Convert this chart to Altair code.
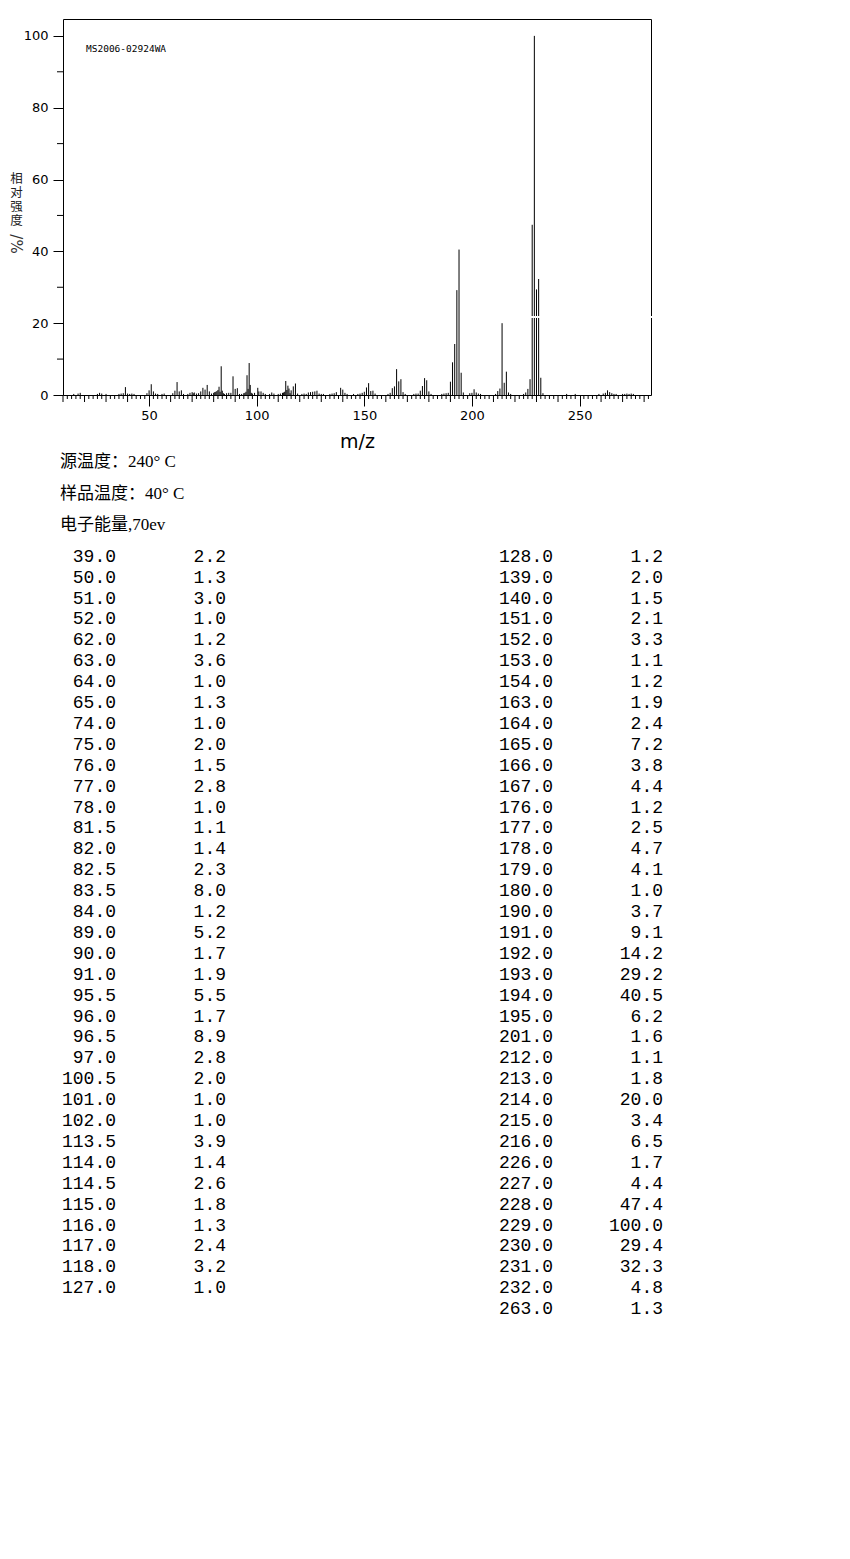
import altair as alt
import pandas as pd

# ---------------- data ----------------
left_mz = [39.0, 50.0, 51.0, 52.0, 62.0, 63.0, 64.0, 65.0, 74.0, 75.0, 76.0, 77.0, 78.0,
           81.5, 82.0, 82.5, 83.5, 84.0, 89.0, 90.0, 91.0, 95.5, 96.0, 96.5, 97.0,
           100.5, 101.0, 102.0, 113.5, 114.0, 114.5, 115.0, 116.0, 117.0, 118.0, 127.0]
left_int = [2.2, 1.3, 3.0, 1.0, 1.2, 3.6, 1.0, 1.3, 1.0, 2.0, 1.5, 2.8, 1.0,
            1.1, 1.4, 2.3, 8.0, 1.2, 5.2, 1.7, 1.9, 5.5, 1.7, 8.9, 2.8,
            2.0, 1.0, 1.0, 3.9, 1.4, 2.6, 1.8, 1.3, 2.4, 3.2, 1.0]
right_mz = [128.0, 139.0, 140.0, 151.0, 152.0, 153.0, 154.0, 163.0, 164.0, 165.0, 166.0,
            167.0, 176.0, 177.0, 178.0, 179.0, 180.0, 190.0, 191.0, 192.0, 193.0, 194.0,
            195.0, 201.0, 212.0, 213.0, 214.0, 215.0, 216.0, 226.0, 227.0, 228.0, 229.0,
            230.0, 231.0, 232.0, 263.0]
right_int = [1.2, 2.0, 1.5, 2.1, 3.3, 1.1, 1.2, 1.9, 2.4, 7.2, 3.8,
             4.4, 1.2, 2.5, 4.7, 4.1, 1.0, 3.7, 9.1, 14.2, 29.2, 40.5,
             6.2, 1.6, 1.1, 1.8, 20.0, 3.4, 6.5, 1.7, 4.4, 47.4, 100.0,
             29.4, 32.3, 4.8, 1.3]
# small peaks (< 1 %) visible in the spectrum but not listed in the table (estimated)
minor_mz = [15, 17, 18, 26, 27, 28, 30, 36, 37, 38, 40, 41, 42, 43, 49, 53, 54, 56, 57, 61,
            66, 68, 69, 70, 70.5, 71, 72, 73, 79, 80, 80.5, 81, 83, 84.5, 85, 86, 87, 88,
            92, 93, 94, 94.5, 95, 97.5, 98, 99, 103, 104, 106, 107, 108, 110, 111, 112,
            112.5, 113, 115.5, 119, 121, 122, 123, 124, 125, 126, 129, 130, 131, 134, 135,
            136, 137, 141, 142, 145, 147, 148, 149, 150, 155, 161, 162, 168, 169, 173, 174,
            175, 181, 186, 187, 188, 189, 196, 199, 200, 202, 203, 204, 211, 217, 218, 224,
            225, 233, 244, 248, 259, 261, 262, 264, 265, 266, 267, 270, 271, 272, 273, 274, 275]
minor_int = [0.3, 0.4, 0.6, 0.3, 0.6, 0.4, 0.3, 0.3, 0.4, 0.5, 0.4, 0.3, 0.4, 0.3, 0.5, 0.4, 0.3, 0.3, 0.4, 0.5,
             0.3, 0.3, 0.6, 0.8, 0.5, 0.7, 0.4, 0.5, 0.4, 0.6, 0.8, 0.9, 0.9, 0.5, 0.3, 0.5, 0.6, 0.6,
             0.3, 0.3, 0.5, 0.6, 0.9, 0.6, 0.4, 0.6, 0.6, 0.3, 0.3, 0.7, 0.4, 0.3, 0.4, 0.6,
             0.7, 0.9, 0.5, 0.4, 0.3, 0.4, 0.3, 0.7, 0.8, 0.9, 0.4, 0.3, 0.3, 0.3, 0.4,
             0.5, 0.8, 0.6, 0.3, 0.3, 0.3, 0.4, 0.6, 0.9, 0.4, 0.3, 0.6, 0.8, 0.3, 0.3, 0.4,
             0.4, 0.3, 0.3, 0.4, 0.5, 0.6, 0.7, 0.5, 0.6, 0.7, 0.4, 0.3, 0.3, 0.7, 0.3, 0.3,
             0.7, 0.5, 0.3, 0.3, 0.3, 0.4, 0.6, 0.8, 0.5, 0.3, 0.3, 0.3, 0.3, 0.4, 0.3, 0.4, 0.3]

header_lines = ["源温度：240° C", "样品温度：40° C", "电子能量,70ev"]
sample_id = "MS2006-02924WA"
y_title_chars = ["相", "对", "强", "度"]
y_title_tail = "/%"
x_title = "m/z"
x_major = [50, 100, 150, 200, 250]
y_major = [0, 20, 40, 60, 80, 100]
y_minor = [10, 30, 50, 70, 90]
x_mid = [v for v in range(10, 284, 10) if v % 50]
x_small = [v for v in range(10, 284, 2) if v % 10]

# ---------------- layout / style ----------------
W, H = 588, 376
X_DOM = [10, 283.2]
Y_DOM = [0, 104.7]
ROW0, ROWSTEP = 537.7, 20.9
TABLE_FONT = "Liberation Mono"
TITLE_X = -47

peaks = pd.DataFrame({"mz": left_mz + right_mz + minor_mz,
                      "intensity": left_int + right_int + minor_int})

xs = alt.Scale(domain=X_DOM, nice=False, zero=False)
ys = alt.Scale(domain=Y_DOM, nice=False)

x_axis = alt.Axis(values=x_major, tickSize=11, labelPadding=3, title=x_title,
                  titleFontSize=19, titlePadding=10, titleFont="DejaVu Sans")
y_axis = alt.Axis(values=y_major, tickSize=10, labelPadding=5,
                  title=y_title_chars, titleAngle=0, titleAlign="center",
                  titleBaseline="top", titleX=TITLE_X, titleY=153,
                  titleFont="Noto Sans CJK SC", titleFontSize=12.5,
                  titleLineHeight=14, titleColor="#222")

bars = alt.Chart(peaks).mark_rule(color="black", strokeWidth=1).encode(
    x=alt.X("mz:Q", scale=xs, axis=x_axis),
    y=alt.Y("intensity:Q", scale=ys, axis=y_axis),
    y2=alt.datum(0),
)

mid_ticks = alt.Chart(pd.DataFrame({"t": x_mid})).mark_rule(color="black").encode(
    x=alt.X("t:Q", scale=xs, axis=x_axis), y=alt.value(H), y2=alt.value(H + 7))
small_ticks = alt.Chart(pd.DataFrame({"t": x_small})).mark_rule(color="black").encode(
    x=alt.X("t:Q", scale=xs, axis=x_axis), y=alt.value(H), y2=alt.value(H + 4))
y_small_ticks = alt.Chart(pd.DataFrame({"t": y_minor})).mark_rule(color="black").encode(
    y=alt.Y("t:Q", scale=ys, axis=y_axis), x=alt.value(0), x2=alt.value(-6))

# thin white break seen across the top peaks and the right frame in the reference
gap = alt.Chart(pd.DataFrame({"t": [0]})).mark_rule(color="white", strokeWidth=2).encode(
    x=alt.datum(227.4, scale=xs), x2=alt.value(W + 2), y=alt.datum(21.7, scale=ys))

id_text = alt.Chart(pd.DataFrame({"t": [sample_id]})).mark_text(
    align="left", baseline="middle", font="DejaVu Sans Mono", fontSize=9.5, color="black"
).encode(x=alt.value(23), y=alt.value(30), text="t:N")

y_tail = alt.Chart(pd.DataFrame({"t": [y_title_tail]})).mark_text(
    align="center", baseline="middle", font="DejaVu Sans", fontSize=15, angle=90, color="#333"
).encode(x=alt.value(TITLE_X), y=alt.value(225), text="t:N")

spectrum = alt.layer(bars, mid_ticks, small_ticks, y_small_ticks, gap, id_text, y_tail)

# ---------------- text block below ----------------
ts = alt.Scale(domain=[0, 36], range=[ROW0, ROW0 + 36 * ROWSTEP])

left_df = pd.DataFrame({"row": list(range(len(left_mz))), "mz": left_mz, "val": left_int})
right_df = pd.DataFrame({"row": list(range(len(right_mz))), "mz": right_mz, "val": right_int})


def col(df, field, xpix):
    return alt.Chart(df).mark_text(
        align="right", baseline="middle", font=TABLE_FONT, fontSize=18, color="black"
    ).encode(x=alt.value(xpix), y=alt.Y("row:Q", scale=ts, axis=None),
             text=alt.Text(f"{field}:Q", format=".1f"))


header = alt.Chart(pd.DataFrame({"t": ["\n".join(header_lines)]})).mark_text(
    align="left", baseline="middle", lineBreak="\n", lineHeight=31.5,
    font="Liberation Serif, Noto Sans CJK SC", fontSize=17, color="black"
).encode(x=alt.value(-3), y=alt.value(443), text="t:N")

table = alt.layer(header, col(left_df, "mz", 53), col(left_df, "val", 163),
                  col(right_df, "mz", 490), col(right_df, "val", 600))

chart = alt.layer(spectrum, table).resolve_scale(y="independent").properties(
    width=W, height=H,
    padding={"left": 0, "top": 11, "right": 5, "bottom": 5},
).configure_view(stroke="black", strokeWidth=1).configure_axis(
    grid=False, domain=False, tickColor="black", labelColor="black",
    labelFont="DejaVu Sans", labelFontSize=13, titleColor="black",
    titleFontWeight="normal",
)

chart.save("out.html", embed_options={"renderer": "svg", "actions": False})
